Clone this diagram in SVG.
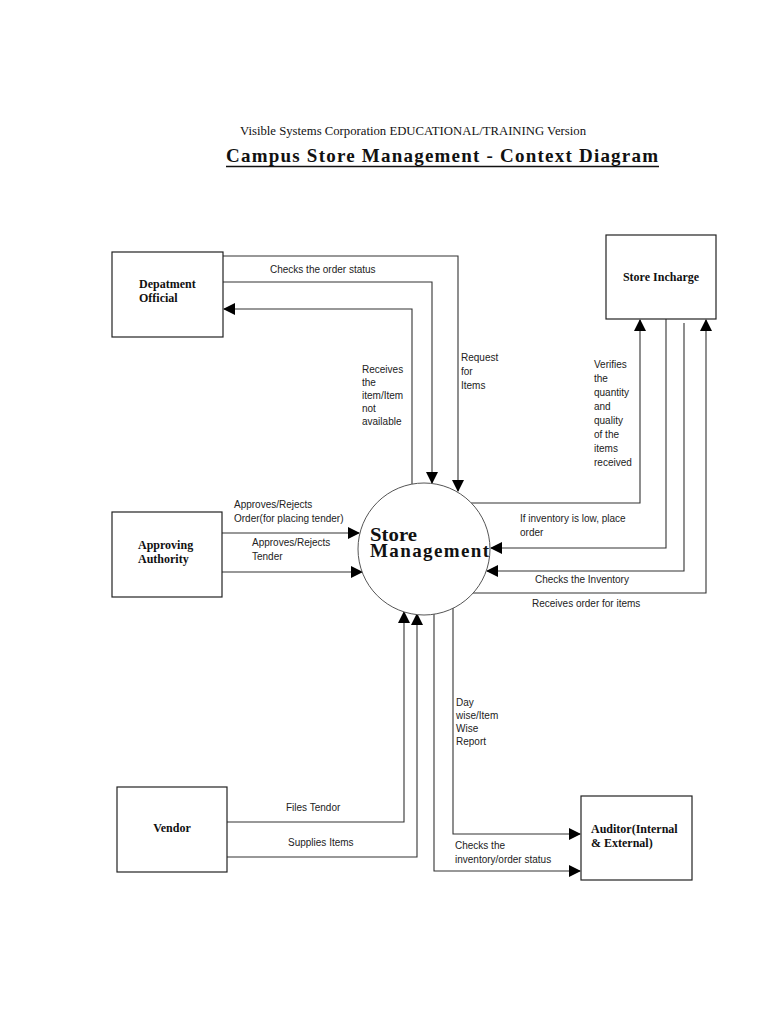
<svg xmlns="http://www.w3.org/2000/svg" width="768" height="1024" viewBox="0 0 768 1024">
<style>
.box{fill:#fff;stroke:#222;stroke-width:1.2}
.ent{font-family:"Liberation Serif",serif;font-weight:bold;font-size:12px;fill:#111}
.lbl{font-family:"Liberation Sans",Arial,sans-serif;font-size:10px;fill:#222}
.ln{fill:none;stroke:#333;stroke-width:1.1}
.sm{font-family:"Liberation Serif",serif;font-weight:bold;font-size:19px;fill:#111}
</style>
<defs>
<marker id="ah" markerUnits="userSpaceOnUse" markerWidth="12" markerHeight="12" refX="11" refY="6" orient="auto">
<path d="M0,0 L12,6 L0,12 Z" fill="#000"/>
</marker>
</defs>
<rect width="768" height="1024" fill="#fff"/>
<g id="title">
<text x="240" y="135" font-family="Liberation Serif,serif" font-size="13" fill="#111" textLength="346" lengthAdjust="spacingAndGlyphs">Visible Systems Corporation EDUCATIONAL/TRAINING Version</text>
<text x="226" y="162" font-family="Liberation Serif,serif" font-size="19" font-weight="bold" fill="#111" textLength="432" lengthAdjust="spacing">Campus Store Management - Context Diagram</text>
<line x1="226" y1="166.5" x2="659" y2="166.5" stroke="#111" stroke-width="1.5"/>
</g>
<g id="connectors">
<polyline class="ln" points="223,256 458,256 458,491" marker-end="url(#ah)"/>
<polyline class="ln" points="223,282 432,282 432,483" marker-end="url(#ah)"/>
<polyline class="ln" points="412,484 412,309 224,309" marker-end="url(#ah)"/>
<polyline class="ln" points="471,503 640,503 640,320" marker-end="url(#ah)"/>
<polyline class="ln" points="666,319 666,548 491,548" marker-end="url(#ah)"/>
<polyline class="ln" points="684,323 684,571 487,571" marker-end="url(#ah)"/>
<polyline class="ln" points="473,593 706,593 706,320" marker-end="url(#ah)"/>
<polyline class="ln" points="222,533 359,533" marker-end="url(#ah)"/>
<polyline class="ln" points="222,572 362,572" marker-end="url(#ah)"/>
<polyline class="ln" points="227,822 404,822 404,612" marker-end="url(#ah)"/>
<polyline class="ln" points="227,857 417,857 417,614" marker-end="url(#ah)"/>
<polyline class="ln" points="453,608 453,834 580,834" marker-end="url(#ah)"/>
<polyline class="ln" points="434,614 434,871 580,871" marker-end="url(#ah)"/>
<g class="lbl">
<text x="270" y="273">Checks the order status</text>
<text x="362" y="373">Receives</text>
<text x="362" y="386">the</text>
<text x="362" y="399">item/Item</text>
<text x="362" y="412">not</text>
<text x="362" y="425">available</text>
<text x="461" y="361">Request</text>
<text x="461" y="375">for</text>
<text x="461" y="389">Items</text>
<text x="594" y="368">Verifies</text>
<text x="594" y="382">the</text>
<text x="594" y="396">quantity</text>
<text x="594" y="410">and</text>
<text x="594" y="424">quality</text>
<text x="594" y="438">of the</text>
<text x="594" y="452">items</text>
<text x="594" y="466">received</text>
<text x="520" y="522">If inventory is low, place</text>
<text x="520" y="536">order</text>
<text x="535" y="583">Checks the Inventory</text>
<text x="532" y="607">Receives order for items</text>
<text x="234" y="508">Approves/Rejects</text>
<text x="234" y="522">Order(for placing tender)</text>
<text x="252" y="546">Approves/Rejects</text>
<text x="252" y="560">Tender</text>
<text x="286" y="811">Files Tendor</text>
<text x="288" y="846">Supplies Items</text>
<text x="456" y="706">Day</text>
<text x="456" y="719">wise/Item</text>
<text x="456" y="732">Wise</text>
<text x="456" y="745">Report</text>
<text x="455" y="849">Checks the</text>
<text x="455" y="863">inventory/order status</text>
</g>
</g>
<g id="store-management">
<circle cx="424" cy="549" r="66" fill="#fff" stroke="#555" stroke-width="1"/>
<text class="sm" x="370" y="541" textLength="47" lengthAdjust="spacingAndGlyphs">Store</text>
<text class="sm" x="370" y="557" textLength="119" lengthAdjust="spacing">Management</text>
</g>
<g id="dept-official">
<rect class="box" x="112" y="252" width="111" height="85"/>
<text class="ent" x="139" y="288">Depatment</text>
<text class="ent" x="139" y="302">Official</text>
</g>
<g id="store-incharge">
<rect class="box" x="606" y="235" width="110" height="84"/>
<text class="ent" x="661" y="281" text-anchor="middle">Store Incharge</text>
</g>
<g id="approving-authority">
<rect class="box" x="112" y="512" width="110" height="85"/>
<text class="ent" x="138" y="549">Approving</text>
<text class="ent" x="138" y="563">Authority</text>
</g>
<g id="vendor">
<rect class="box" x="117" y="787" width="110" height="85"/>
<text class="ent" x="172" y="832" text-anchor="middle">Vendor</text>
</g>
<g id="auditor">
<rect class="box" x="581" y="796" width="111" height="84"/>
<text class="ent" x="591" y="833">Auditor(Internal</text>
<text class="ent" x="591" y="847">&amp; External)</text>
</g>
</svg>
